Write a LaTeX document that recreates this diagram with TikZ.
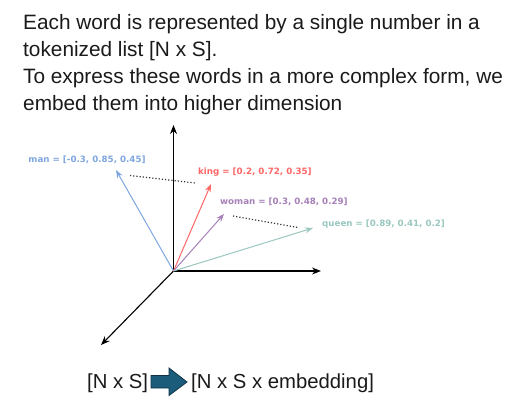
\documentclass[tikz,border=0pt]{standalone}
\usepackage{fontspec}
\setmainfont{Liberation Sans}
\newfontfamily\labfont{DejaVu Sans}
\usetikzlibrary{arrows.meta}
\definecolor{manc}{HTML}{7EA6E0}
\definecolor{kingc}{HTML}{FF6666}
\definecolor{womanc}{HTML}{A680B8}
\definecolor{queenc}{HTML}{9AC7BF}
\definecolor{blockc}{HTML}{1B5C7A}
\definecolor{blockd}{HTML}{0E3346}
\definecolor{txt}{HTML}{1A1A1A}
\tikzset{
  head/.style={anchor=base west, inner sep=0pt, font=\fontsize{20.8}{24}\selectfont, text=txt},
  foot/.style={anchor=base west, inner sep=0pt, font=\fontsize{20.3}{24}\selectfont, text=txt},
  lab/.style={inner sep=0pt, font=\labfont\fontsize{8.7}{11}\selectfont\bfseries},
  axis/.style={line width=1.1pt, -{Stealth[length=9pt,width=7pt]}},
  vec/.style={line width=1pt, -{Stealth[length=8pt,width=6pt]}},
  dots/.style={line width=1.2pt, dotted, black!80},
}
\begin{document}
\begin{tikzpicture}[x=1pt,y=-1pt]
\useasboundingbox (0,0) rectangle (520,413);
\node[head] (l1) at (23,29.5) {Each word is represented by a single number in a};
\node[head] (l2) at (23,56) {tokenized list [N x S].};
\node[head] (l3) at (23,83) {To express these words in a more complex form, we};
\node[head] (l4) at (23,110) {embed them into higher dimension};

\coordinate (O) at (173.5,271);
\coordinate (Y) at (173.5,125);
\coordinate (X) at (321,271);
\coordinate (Z) at (101,345);
\draw[axis] (O) -- (Y);
\draw[axis] (O) -- (X);
\draw[axis] (O) -- (Z);

\coordinate (man) at (116,170);
\coordinate (king) at (211,184);
\coordinate (woman) at (224,214);
\coordinate (queen) at (313,228);
\draw[vec, manc] (O) -- (man);
\draw[vec, kingc] (O) -- (king);
\draw[vec, womanc] (O) -- (woman);
\draw[vec, queenc] (O) -- (queen);

\coordinate (d1a) at (130,175.5);
\coordinate (d1b) at (195,183);
\coordinate (d2a) at (233,216);
\coordinate (d2b) at (298,227.5);
\draw[dots] (d1a) -- (d1b);
\draw[dots] (d2a) -- (d2b);

\node[lab, text=manc] (manl) at (87,160) {man = [-0.3, 0.85, 0.45]};
\node[lab, text=kingc, anchor=west] (kingl) at (198,172.5) {king = [0.2, 0.72, 0.35]};
\node[lab, text=womanc, anchor=west] (womanl) at (220,202) {woman = [0.3, 0.48, 0.29]};
\node[lab, text=queenc, anchor=west] (queenl) at (322,224) {queen = [0.89, 0.41, 0.2]};

\node[foot] (a) at (87,388.5) {[N x S]};
\draw[fill=blockc, draw=blockd, line width=0.8pt] (151,375.5) -- (169,375.5) -- (169,368) -- (187,382) -- (169,395.5) -- (169,388) -- (151,388) -- cycle;
\node[foot] (b) at (191,388.5) {[N x S x embedding]};
\end{tikzpicture}
\end{document}
